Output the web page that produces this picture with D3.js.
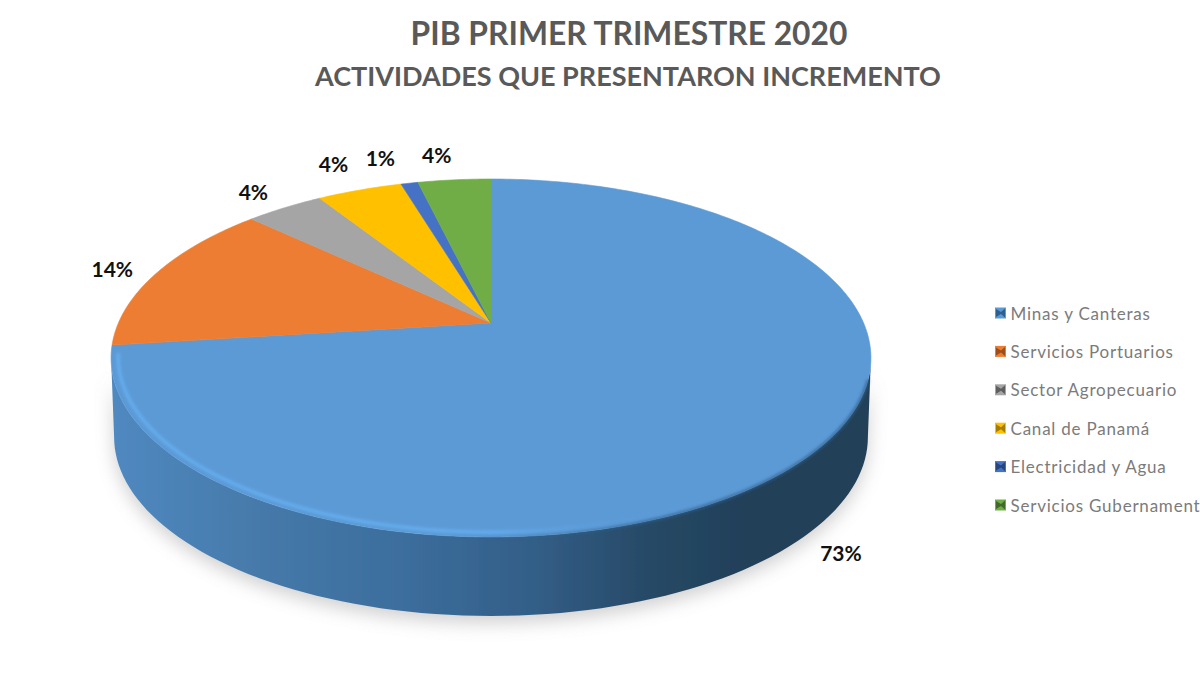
<!DOCTYPE html>
<html lang="es">
<head>
<meta charset="UTF-8">
<title>PIB primer trimestre 2020</title>
<script src="https://d3js.org/d3.v7.min.js"></script>
<style>
  html, body { margin: 0; padding: 0; background: #fff; overflow: hidden; }
  text { font-family: Lato, "Open Sans", sans-serif; }
</style>
</head>
<body>
<script>
const titleText = "PIB PRIMER TRIMESTRE 2020";
const subtitleText = "ACTIVIDADES QUE PRESENTARON INCREMENTO";
const categories = ["Minas y Canteras", "Servicios Portuarios", "Sector Agropecuario", "Canal de Panamá", "Electricidad y Agua", "Servicios Gubernamentales"];
const shares = [73, 14, 4, 4.37, 0.88, 3.75];
const shareLabels = ["73%", "14%", "4%", "4%", "1%", "4%"];
const colors = ["#5b9ad6", "#ed7d31", "#a5a5a5", "#ffc000", "#4472c4", "#70ad47"];
const markerDark = ["#2f5f8c", "#9c4f1c", "#5f5f5f", "#a67c00", "#27467e", "#41692a"];

const width = 1200, height = 675;
const svg = d3.select("body").append("svg").attr("width", width).attr("height", height);
const defs = svg.append("defs");

// tilted disc: the pie centre is not the ellipse centre, so use a small perspective map
const cx = 491, apexY = 323, persp = -0.1955, slope = 109, radiusX = 372.6, depth = 79;
function project(angle, r, drop, shrink) {
  const u = Math.sin(angle) * r, v = -Math.cos(angle) * r;
  const w = 1 + persp * v;
  return [cx + radiusX * (shrink || 1) * u / w, (apexY + slope * v) / w + (drop || 0)];
}
const line = d3.line();

const pie = d3.pie().sort(null).value(d => d);
const arcs = pie(shares);

function sliceOutline(a) {
  const n = Math.max(4, Math.ceil((a.endAngle - a.startAngle) * 60));
  const steps = d3.range(n + 1).map(i => a.startAngle + (a.endAngle - a.startAngle) * i / n);
  return line([project(0, 0)].concat(steps.map(t => project(t, 1)))) + "Z";
}

// front wall: from the widest point of the rim round the front and back along the bottom rim
const widest = Math.acos(persp);
const wallAngles = d3.range(0, 91).map(i => widest + (2 * Math.PI - 2 * widest) * i / 90);
const wallPath = line(
  wallAngles.map(t => project(t, 1))
    .concat(wallAngles.slice().reverse().map(t => project(t, 1, depth, 0.992)))
) + "Z";

const wallGrad = defs.append("linearGradient").attr("id", "wall")
  .attr("gradientUnits", "userSpaceOnUse")
  .attr("x1", 112).attr("x2", 871).attr("y1", 0).attr("y2", 0);
[[0, "#5089c0"], [0.2, "#4579a9"], [0.38, "#3c6e9d"], [0.55, "#335f88"], [0.72, "#264864"], [0.85, "#213f58"], [1, "#233f59"]]
  .forEach(s => wallGrad.append("stop").attr("offset", s[0]).attr("stop-color", s[1]));

const rimGrad = defs.append("linearGradient").attr("id", "rim")
  .attr("gradientUnits", "userSpaceOnUse")
  .attr("x1", 112).attr("x2", 871).attr("y1", 0).attr("y2", 0);
[[0, "#66b2f4", 0.9], [0.5, "#66b2f4", 0.9], [0.66, "#5a9fdc", 0.3], [0.76, "#5b9ad6", 0]]
  .forEach(s => rimGrad.append("stop").attr("offset", s[0]).attr("stop-color", s[1]).attr("stop-opacity", s[2]));

// the right part of the rim melts into the dark wall instead of a hard edge
const rimDarkGrad = defs.append("linearGradient").attr("id", "rimDark")
  .attr("gradientUnits", "userSpaceOnUse")
  .attr("x1", 112).attr("x2", 871).attr("y1", 0).attr("y2", 0);
[[0.45, "#2f5f8c", 0], [0.7, "#2f5f8c", 0.7], [1, "#2f5f8c", 0.8]]
  .forEach(s => rimDarkGrad.append("stop").attr("offset", s[0]).attr("stop-color", s[1]).attr("stop-opacity", s[2]));

defs.append("filter").attr("id", "soft").attr("x", "-10%").attr("y", "-10%").attr("width", "120%").attr("height", "120%")
  .append("feGaussianBlur").attr("stdDeviation", 9);
defs.append("filter").attr("id", "softRim").attr("x", "-5%").attr("y", "-5%").attr("width", "110%").attr("height", "110%")
  .append("feGaussianBlur").attr("stdDeviation", 1.8);
defs.append("filter").attr("id", "softer").attr("x", "-5%").attr("y", "-5%").attr("width", "110%").attr("height", "110%")
  .append("feGaussianBlur").attr("stdDeviation", 0.6);

const chart = svg.append("g");

// drop shadow under the wall
chart.append("path").attr("d", wallPath).attr("fill", "#8a8a8a").attr("opacity", 0.4)
  .attr("transform", "translate(0,7)").attr("filter", "url(#soft)");

const disc = chart.append("g").attr("filter", "url(#softer)");
disc.append("path").attr("d", wallPath).attr("fill", "url(#wall)");

disc.selectAll("path.slice").data(arcs).enter().append("path")
  .attr("class", "slice")
  .attr("d", sliceOutline)
  .attr("fill", (d, i) => colors[i])
  .attr("stroke", (d, i) => colors[i])
  .attr("stroke-width", 0.6);

// bevel along the front rim: dark blur on the right, light line just inside the edge on the left
const bevelAngles = d3.range(108, 262, 2).map(d => d * Math.PI / 180);
chart.append("path")
  .attr("d", line(bevelAngles.map(t => project(t, 1))))
  .attr("fill", "none")
  .attr("stroke", "url(#rimDark)")
  .attr("stroke-width", 3)
  .attr("filter", "url(#softRim)");
chart.append("path")
  .attr("d", line(bevelAngles.map(t => project(t, 0.982))))
  .attr("fill", "none")
  .attr("stroke", "url(#rim)")
  .attr("stroke-width", 3)
  .attr("filter", "url(#softRim)");

// percentage labels, pushed off the rim one by one as in the original
const labelNudge = [[29, 21], [-7, 1], [-10, -4], [-13, -13], [-21, -12], [-14, -11]];
const labelPos = arcs.map((a, i) => {
  const mid = (a.startAngle + a.endAngle) / 2;
  const p = i === 0 ? project(mid, 1, 78) : project(mid, 1.12);
  return [p[0] + labelNudge[i][0], p[1] + labelNudge[i][1]];
});
chart.selectAll("text.pct").data(shareLabels).enter().append("text")
  .attr("class", "pct")
  .attr("x", (d, i) => labelPos[i][0])
  .attr("y", (d, i) => labelPos[i][1])
  .attr("text-anchor", "middle")
  .attr("dominant-baseline", "central")
  .attr("font-size", 21)
  .attr("font-weight", 700)
  .attr("fill", "#111")
  .text(d => d);

// legend
const legendY = d3.scalePoint().domain(categories).range([313, 505]);
const legend = svg.append("g").selectAll("g").data(categories).enter().append("g")
  .attr("transform", d => `translate(995,${legendY(d)})`);
legend.append("rect").attr("x", 0).attr("y", -5.5).attr("width", 11).attr("height", 11)
  .attr("fill", (d, i) => colors[i]);
legend.append("path").attr("d", "M1,-4L6,-1L10,-4.5V4.5L6,1L1,4Z")
  .attr("fill", (d, i) => markerDark[i]);
legend.append("text").attr("x", 15.5).attr("y", 0)
  .attr("dominant-baseline", "central")
  .attr("font-size", 17)
  .attr("letter-spacing", 0.78)
  .attr("fill", "#7b7b7b")
  .text(d => d);

// titles
svg.append("text").attr("x", 629).attr("y", 45).attr("text-anchor", "middle")
  .attr("font-size", 31.8).attr("font-weight", 700).attr("fill", "#595959").text(titleText);
svg.append("text").attr("x", 628).attr("y", 86).attr("text-anchor", "middle")
  .attr("font-size", 27).attr("font-weight", 700).attr("fill", "#595959").text(subtitleText);
</script>
</body>
</html>
